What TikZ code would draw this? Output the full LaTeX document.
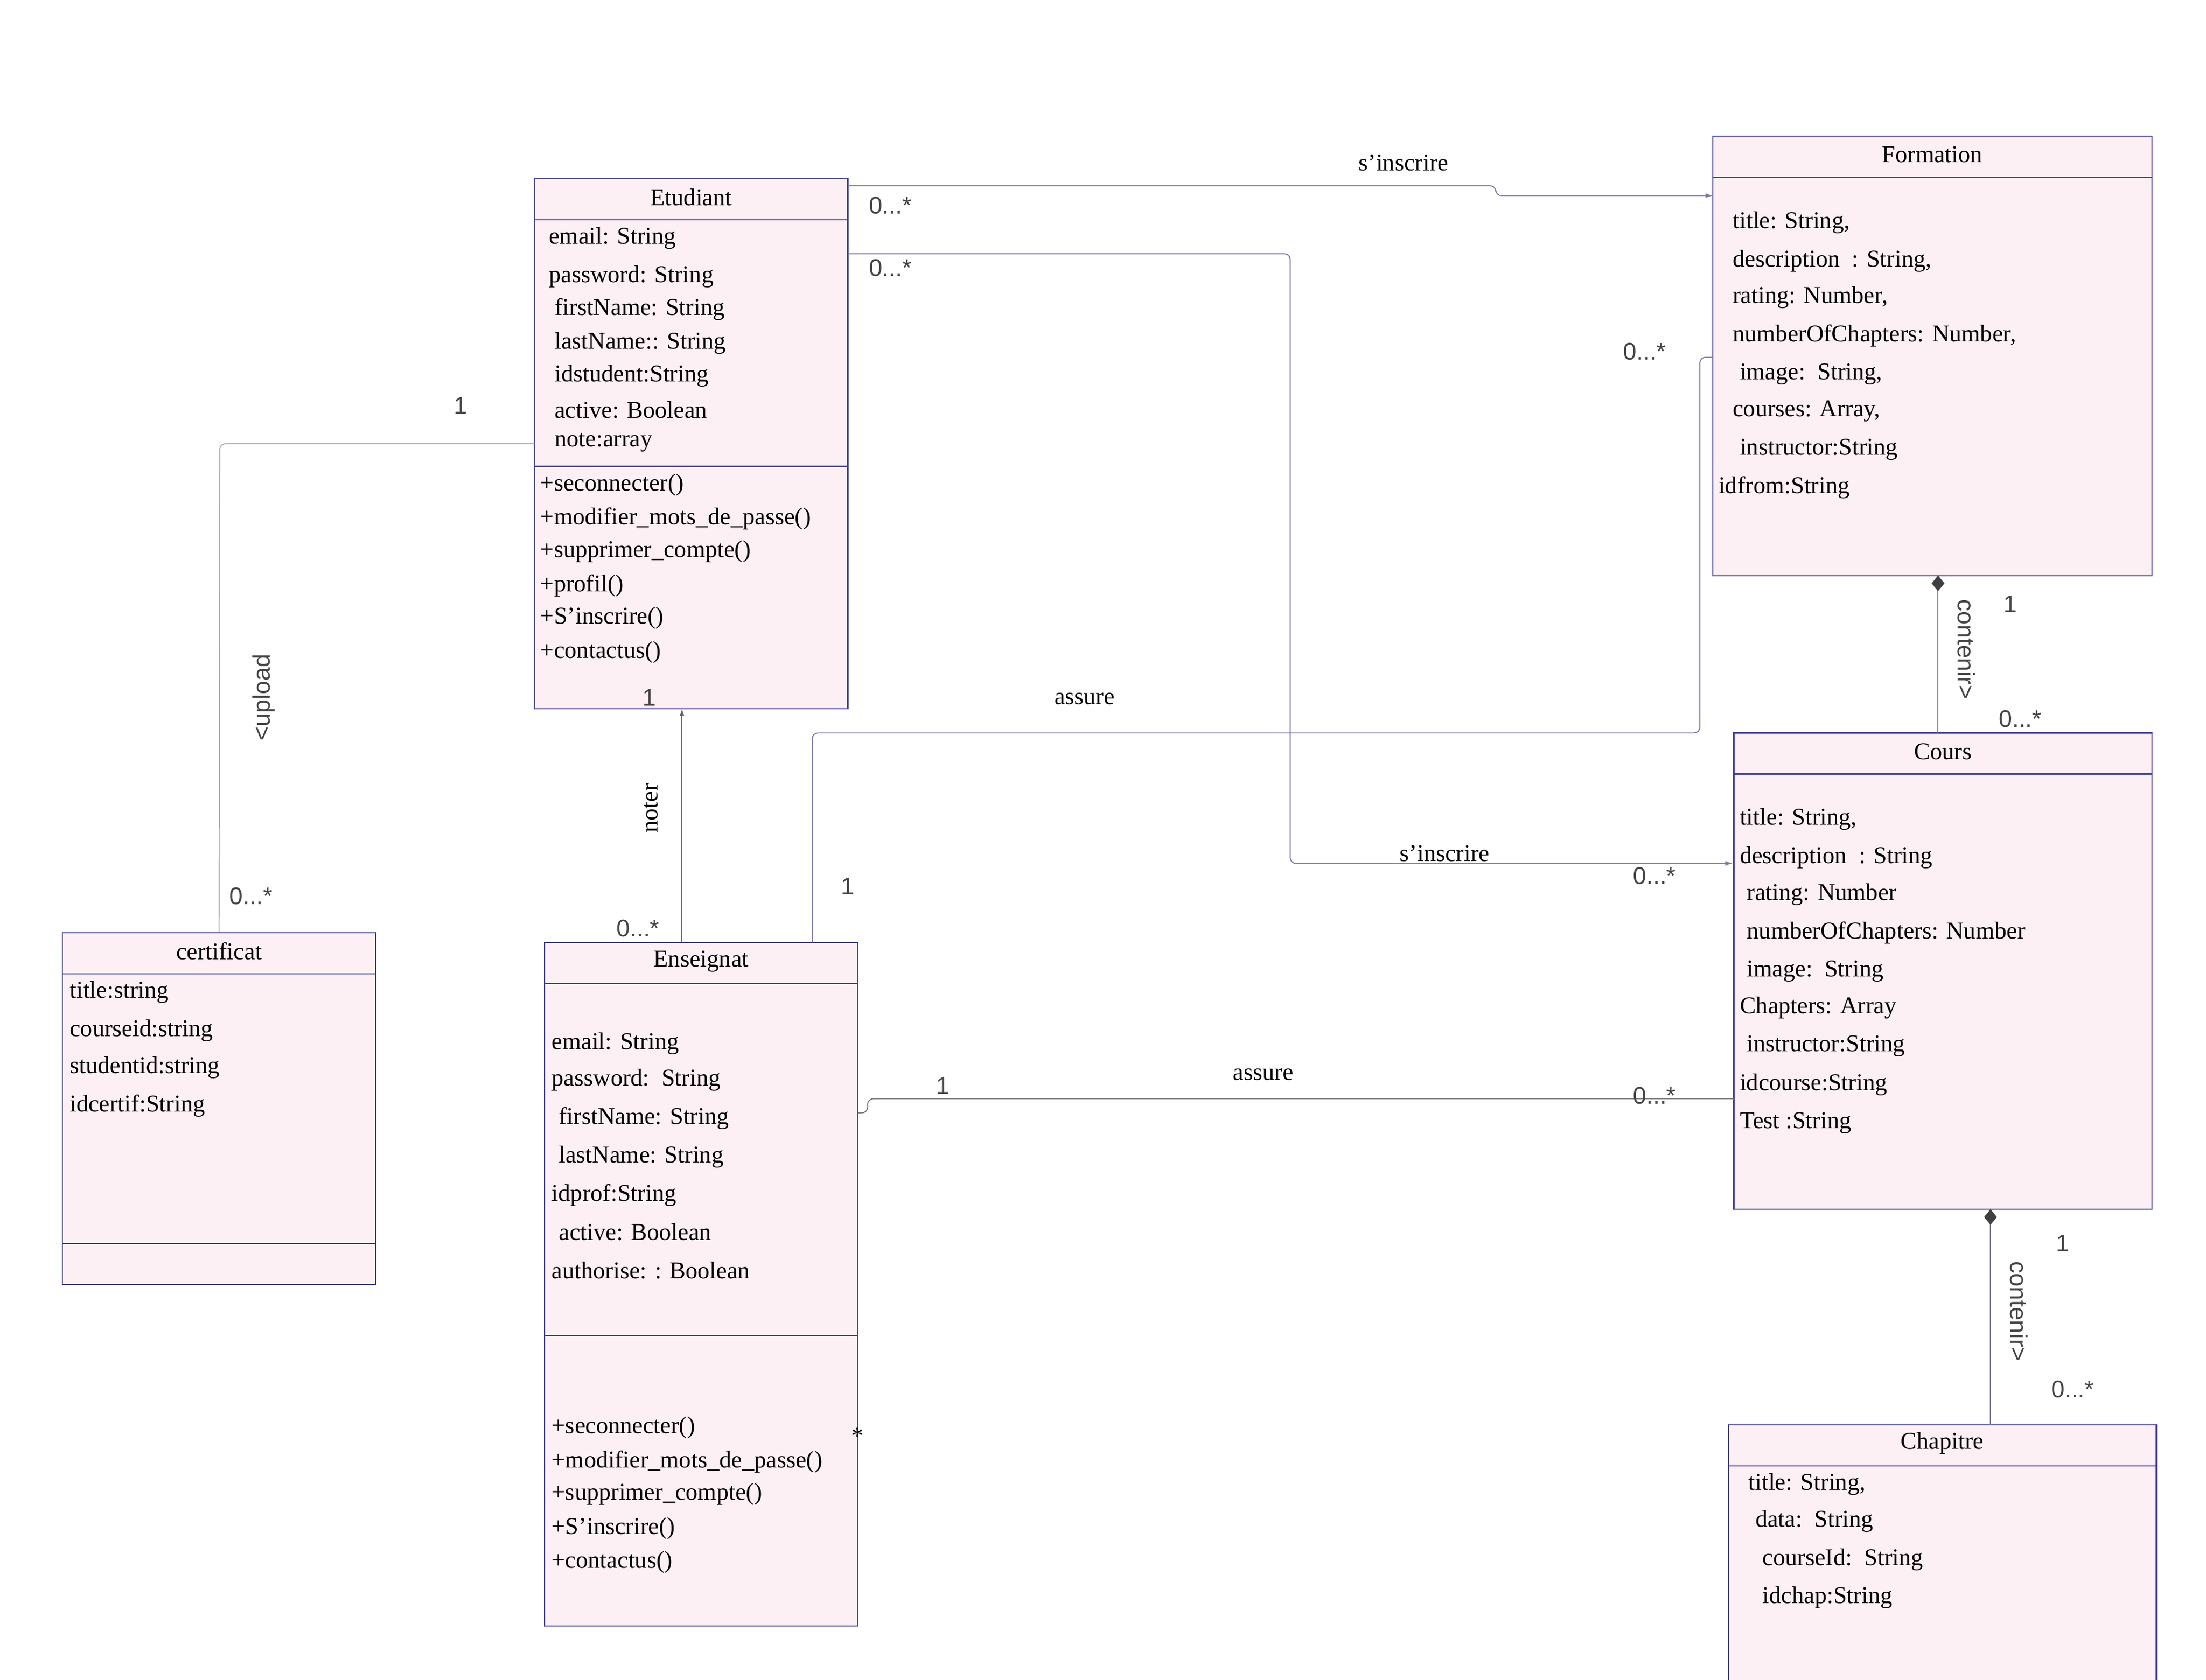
\documentclass[tikz,border=0pt]{standalone}
\usepackage{fontspec}
\setmainfont{Liberation Serif}
\newfontfamily\labfont{Liberation Sans}
\usetikzlibrary{arrows.meta,calc}
\begin{document}
\begin{tikzpicture}
		[x=1pt,y=-1pt,
		%Styles
		box/.style={draw=boxline,fill=boxfill,line width=0.8pt,inner sep=0pt},
		sep/.style={draw=boxline,line width=0.8pt},
		attr/.style={anchor=west,inner sep=0pt,font=\fontsize{17}{20}\selectfont},
		title/.style={inner sep=0pt,font=\fontsize{17}{20}\selectfont},
		mult/.style={inner sep=0pt,text=multcol,font=\labfont\fontsize{17}{20}\selectfont},
		link/.style={draw=linkcol,line width=0.7pt,rounded corners=4pt},
		arr/.style={link,-{Latex[length=5pt,width=3.5pt]}},
		comp/.style={draw=linkcol!60!gray,line width=0.7pt,{Diamond[length=11pt,width=9pt,fill=black!75,color=black!75]}-}
		]
		
		%Colors
		\definecolor{boxfill}{HTML}{FCF0F4}
		\definecolor{boxline}{HTML}{40408F}
		\definecolor{linkcol}{HTML}{7878A8}
		\definecolor{multcol}{HTML}{444444}
		
		\useasboundingbox (0,0) rectangle (1556,1185);
		
		%Boxes
		\node[box,minimum width=221,minimum height=374] (etu) at (487.5,313) {};
		\node[box,minimum width=310,minimum height=310] (form) at (1363,251) {};
		\node[box,minimum width=295,minimum height=336] (cours) at (1370.5,685) {};
		\node[box,minimum width=302,minimum height=200] (chap) at (1370,1105) {};
		\node[box,minimum width=221,minimum height=248] (cert) at (154.5,782) {};
		\node[box,minimum width=221,minimum height=482] (ens) at (494.5,906) {};
		
		\draw[sep] (377,155) -- (598,155) (377,329) -- (598,329);
		\draw[sep] (1208,125) -- (1518,125);
		\draw[sep] (1223,546) -- (1518,546);
		\draw[sep] (1219,1034) -- (1521,1034);
		\draw[sep] (44,687) -- (265,687) (44,877) -- (265,877);
		\draw[sep] (384,694) -- (605,694) (384,942) -- (605,942);
		
		%Titles
		\node[title] at (487.5,139) {Etudiant};
		\node[title] at (1363,109) {Formation};
		\node[title] at (1370.5,530) {Cours};
		\node[title] at (1370,1018) {Chapitre};
		\node[title] at (154.5,671) {certificat};
		\node[title] at (494.5,678) {Enseignat};
		
		%Members
		\foreach \x/\y/\t in {387/168/{email: String},387/195/{password: String},391/218/{firstName: String},
			391/242/{lastName:: String},391/265/{idstudent:String},391/289/{active: Boolean},391/312/{note:array},
			381/342/{+seconnecter()},381/366/{+modifier\_mots\_de\_passe()},381/389/{+supprimer\_compte()},
			381/413/{+profil()},381/436/{+S'inscrire()},381/460/{+contactus()}}
			\node[attr] at (\x,\y) {\t};
		\foreach \x/\y/\t in {1222/157/{title: String,},1222/184/{description\ \ : String,},1222/210/{rating: Number,},
			1222/237/{numberOfChapters: Number,},1227/264/{image:\ \ String,},1222/290/{courses: Array,},
			1227/317/{instructor:String},1212/344/{idfrom:String}}
			\node[attr] at (\x,\y) {\t};
		\foreach \x/\y/\t in {1227/578/{title: String,},1227/605/{description\ \ : String},1232/631/{rating: Number},
			1232/658/{numberOfChapters: Number},1232/685/{image:\ \ String},1227/711/{Chapters: Array},
			1232/738/{instructor:String},1227/765/{idcourse:String},1227/792/{Test :String}}
			\node[attr] at (\x,\y) {\t};
		\foreach \x/\y/\t in {1233/1047/{title: String,},1238/1073/{data:\ \ String},1243/1100/{courseId:\ \ String},
			1243/1127/{idchap:String}}
			\node[attr] at (\x,\y) {\t};
		\foreach \x/\y/\t in {49/700/{title:string},49/727/{courseid:string},49/753/{studentid:string},49/780/{idcertif:String}}
			\node[attr] at (\x,\y) {\t};
		\foreach \x/\y/\t in {389/736/{email: String},389/762/{password:\ \ String},394/789/{firstName: String},
			394/816/{lastName: String},389/843/{idprof:String},394/869/{active: Boolean},389/896/{authorise: : Boolean},
			389/1007/{+seconnecter()},389/1031/{+modifier\_mots\_de\_passe()},389/1054/{+supprimer\_compte()},
			389/1078/{+S'inscrire()},389/1102/{+contactus()}}
			\node[attr] at (\x,\y) {\t};
		\node[title] at (605,1013) {*};
		
		%Connectors
		\coordinate (etuA) at (598,131);
		\coordinate (formA) at (1208,138);
		\draw[arr] (etuA) -- (1055,131) -- (1055,138) -- (formA);
		\node[title] at (990,115) {s'inscrire};
		\node[mult] at (628,145) {0...*};
		
		\coordinate (etuB) at (598,179);
		\coordinate (coursA) at (1222,609);
		\draw[arr] (etuB) -- (910,179) -- (910,609) -- (coursA);
		\node[title] at (1019,602) {s'inscrire};
		\node[mult] at (628,189) {0...*};
		\node[mult] at (1167,618) {0...*};
		
		\coordinate (etuC) at (377,313);
		\draw[link,draw=gray!70] (etuC) -- (155,313) -- (cert.north);
		\node[mult] at (325,286) {1};
		\node[mult,rotate=90] at (186,492) {<upload};
		\node[mult] at (177,632) {0...*};
		
		\coordinate (ensA) at (481,665);
		\coordinate (etuD) at (481,500);
		\draw[arr,draw=gray!80!black] (ensA) -- (etuD);
		\node[title,rotate=90] at (459,570) {noter};
		\node[mult] at (458,492) {1};
		\node[mult] at (450,655) {0...*};
		
		\coordinate (ensB) at (573,665);
		\coordinate (formB) at (1208,252);
		\draw[link] (ensB) -- (573,517) -- (1199,517) -- (1199,252) -- (formB);
		\node[title] at (765,493) {assure};
		\node[mult] at (598,625) {1};
		\node[mult] at (1160,248) {0...*};
		
		\coordinate (ensC) at (605,785);
		\coordinate (coursB) at (1223,775);
		\draw[link,draw=gray!90!black] (ensC) -- (612,785) -- (612,775) -- (coursB);
		\node[mult] at (665,766) {1};
		\node[title] at (891,758) {assure};
		\node[mult] at (1167,773) {0...*};
		
		\draw[comp] (1367,406) -- (1367,517);
		\node[mult,rotate=-90] at (1387,458) {contenir>};
		\node[mult] at (1418,426) {1};
		\node[mult] at (1425,507) {0...*};
		
		\draw[comp] (1404,853) -- (1404,1005);
		\node[mult,rotate=-90] at (1424,925) {contenir>};
		\node[mult] at (1455,877) {1};
		\node[mult] at (1462,980) {0...*};
	\end{tikzpicture}
\end{document}
